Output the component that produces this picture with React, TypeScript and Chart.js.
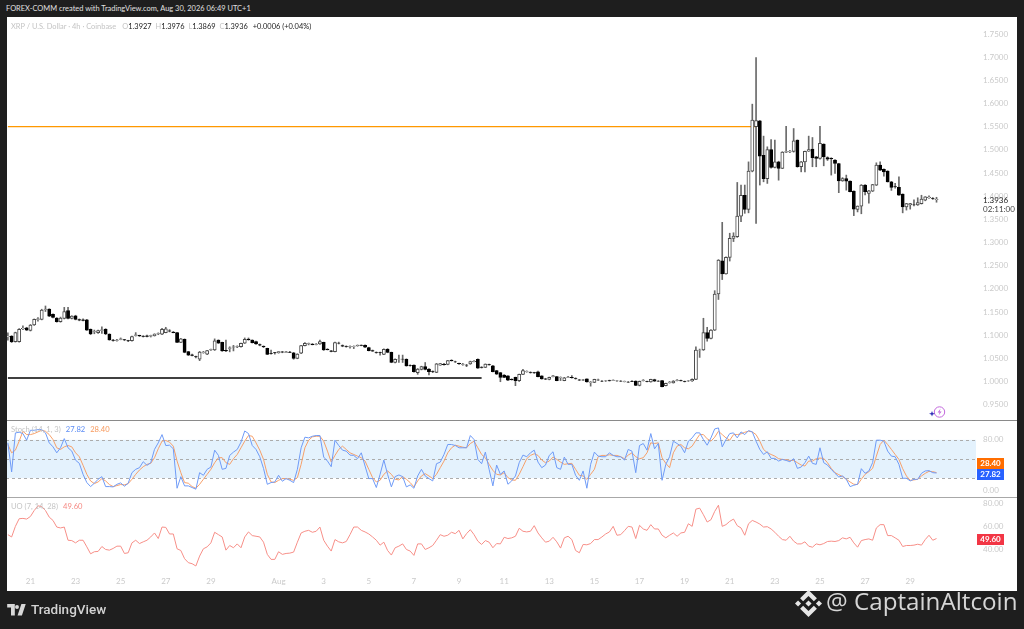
import React, { useEffect, useRef } from "react";
import { Chart, registerables } from "chart.js";

Chart.register(...registerables);

const opens = [
  1.0965,1.098,1.086,1.086,1.114,1.116,1.110,1.122,1.134,1.134,
  1.1555,1.1565,1.145,1.137,1.129,1.136,1.153,1.136,1.142,1.1335,
  1.133,1.133,1.1125,1.107,1.1055,1.1105,1.1125,1.1025,1.0895,1.0885,
  1.091,1.0905,1.0885,1.088,1.0995,1.0995,1.098,1.0985,1.098,1.099,
  1.1025,1.102,1.1055,1.1095,1.1065,1.1055,1.0845,1.091,1.0645,1.0575,
  1.054,1.048,1.0625,1.059,1.068,1.068,1.0895,1.0845,1.067,1.0715,
  1.074,1.0745,1.075,1.0825,1.0915,1.0895,1.086,1.0795,1.076,1.0715,
  1.061,1.0625,1.062,1.064,1.063,1.0635,1.062,1.050,1.061,1.0775,
  1.081,1.0805,1.080,1.081,1.0845,1.0695,1.066,1.0645,1.083,1.0775,
  1.0755,1.0745,1.075,1.0775,1.0785,1.078,1.073,1.0665,1.063,1.0625,
  1.0585,1.0695,1.063,1.041,1.048,1.0485,1.048,1.0345,1.0355,1.019,
  1.026,1.032,1.027,1.0215,1.0198,1.0355,1.037,1.037,1.0455,1.0425,
  1.039,1.037,1.0355,1.038,1.043,1.048,1.031,1.0305,1.0365,1.034,
  1.0235,1.019,1.014,1.0125,1.0045,1.009,1.002,1.0155,1.021,1.020,
  1.019,1.021,1.012,1.0055,1.0045,1.011,1.0105,1.008,1.002,1.009,
  1.009,1.007,1.0035,1.003,1.0055,0.998,0.998,1.003,1.001,1.001,
  1.002,1.0025,1.001,1.001,0.9995,0.999,1.0005,1.001,0.9915,1.0025,
  1.0,0.999,1.004,1.001,1.002,0.991,0.998,0.997,1.0025,1.002,
  1.0,1.001,1.001,1.0045,1.0675,1.068,1.1055,1.093,1.111,1.189,
  1.2605,1.232,1.268,1.309,1.3125,1.357,1.402,1.3715,1.454,1.55,
  1.5627,1.488,1.438,1.5008,1.462,1.474,1.46,1.495,1.4955,1.4965,
  1.521,1.4635,1.474,1.497,1.5015,1.485,1.4815,1.5123,1.4835,1.4815,
  1.478,1.4705,1.433,1.438,1.4325,1.411,1.3715,1.3785,1.424,1.406,
  1.411,1.424,1.467,1.458,1.454,1.431,1.4205,1.419,1.4045,1.377,
  1.381,1.3815,1.381,1.384,1.3915,1.397,1.3955,1.3927,
];
const closes = [
  1.0975,1.086,1.1055,1.1125,1.115,1.111,1.122,1.134,1.135,1.154,
  1.1565,1.141,1.1385,1.129,1.137,1.151,1.136,1.141,1.134,1.1325,
  1.132,1.111,1.1025,1.1075,1.110,1.1115,1.1025,1.0895,1.0885,1.0895,
  1.092,1.0895,1.0875,1.097,1.1005,1.0985,1.0975,1.0975,1.099,1.1025,
  1.1035,1.1125,1.1135,1.1085,1.1055,1.0845,1.092,1.063,1.057,1.0565,
  1.053,1.0635,1.0635,1.0665,1.069,1.088,1.0825,1.066,1.066,1.0725,
  1.075,1.0755,1.0825,1.091,1.0905,1.084,1.081,1.0785,1.075,1.0585,
  1.0605,1.0615,1.0645,1.0635,1.064,1.063,1.050,1.059,1.0775,1.0825,
  1.082,1.0795,1.081,1.086,1.068,1.0685,1.065,1.084,1.0825,1.0765,
  1.075,1.0755,1.0755,1.078,1.078,1.074,1.0665,1.0655,1.0625,1.062,
  1.0695,1.0625,1.041,1.048,1.0485,1.048,1.0335,1.034,1.021,1.027,
  1.032,1.026,1.021,1.021,1.038,1.0385,1.0365,1.045,1.045,1.042,
  1.0385,1.0375,1.035,1.043,1.0435,1.0285,1.0305,1.0375,1.036,1.021,
  1.016,1.009,1.009,1.003,1.004,1.002,1.0155,1.0235,1.0215,1.0195,
  1.0185,1.0105,1.0055,1.005,1.009,1.012,1.002,1.0085,1.008,1.0095,
  1.0085,1.0065,1.003,1.0035,0.999,0.9985,1.0045,1.0035,1.0005,1.0015,
  1.0015,1.003,1.0015,1.0005,1.0,0.9985,1.0,0.9915,1.0005,1.003,
  0.9995,1.0045,1.0005,1.0005,0.989,0.996,0.9985,1.001,1.003,1.0015,
  0.9995,1.0015,1.0045,1.068,1.068,1.1055,1.093,1.111,1.1887,1.262,
  1.232,1.268,1.309,1.314,1.357,1.402,1.3715,1.454,1.564,1.563,
  1.4864,1.438,1.5008,1.462,1.474,1.46,1.495,1.496,1.4965,1.5195,
  1.4635,1.474,1.497,1.5008,1.483,1.4815,1.514,1.485,1.48,1.481,
  1.4705,1.433,1.438,1.4325,1.4095,1.372,1.3785,1.424,1.4095,1.4115,
  1.425,1.467,1.456,1.4525,1.431,1.419,1.42,1.402,1.377,1.384,
  1.384,1.381,1.386,1.3935,1.3985,1.398,1.395,1.3936,
];
const highs = [
  1.105,1.099,1.1065,1.114,1.120,1.117,1.123,1.135,1.138,1.156,
  1.163,1.157,1.146,1.138,1.139,1.160,1.160,1.142,1.143,1.135,
  1.135,1.134,1.1135,1.111,1.111,1.118,1.114,1.103,1.091,1.091,
  1.094,1.091,1.089,1.098,1.1055,1.100,1.099,1.100,1.100,1.103,
  1.105,1.115,1.117,1.112,1.108,1.106,1.093,1.092,1.065,1.059,
  1.055,1.065,1.065,1.067,1.070,1.092,1.090,1.085,1.0895,1.075,
  1.078,1.077,1.083,1.094,1.094,1.090,1.087,1.081,1.077,1.072,
  1.068,1.063,1.065,1.065,1.065,1.065,1.063,1.060,1.078,1.084,
  1.083,1.082,1.082,1.0895,1.085,1.071,1.067,1.085,1.085,1.079,
  1.077,1.077,1.077,1.079,1.079,1.079,1.074,1.068,1.064,1.0635,
  1.0705,1.071,1.0635,1.049,1.057,1.057,1.049,1.036,1.036,1.028,
  1.033,1.041,1.028,1.023,1.039,1.039,1.039,1.0455,1.047,1.044,
  1.040,1.039,1.037,1.044,1.045,1.049,1.032,1.038,1.0375,1.035,
  1.024,1.0195,1.015,1.013,1.006,1.0095,1.016,1.0265,1.023,1.021,
  1.020,1.0225,1.0125,1.007,1.0095,1.0135,1.011,1.010,1.009,1.011,
  1.013,1.008,1.0045,1.0045,1.006,1.000,1.005,1.005,1.002,1.0025,
  1.003,1.0035,1.0025,1.002,1.001,1.000,1.002,1.0015,1.001,1.004,
  1.001,1.005,1.005,1.002,1.0025,0.9965,1.000,1.002,1.004,1.003,
  1.001,1.0025,1.006,1.075,1.070,1.1365,1.117,1.112,1.196,1.263,
  1.3435,1.269,1.320,1.321,1.4296,1.424,1.424,1.474,1.5986,1.699,
  1.5635,1.5296,1.5065,1.522,1.521,1.4755,1.496,1.551,1.499,1.546,
  1.5215,1.475,1.4975,1.5296,1.5266,1.486,1.551,1.513,1.485,1.483,
  1.479,1.471,1.44,1.4455,1.433,1.4115,1.379,1.425,1.425,1.4125,
  1.4255,1.472,1.474,1.459,1.455,1.432,1.4275,1.442,1.405,1.3845,
  1.3845,1.392,1.3965,1.402,1.399,1.4005,1.397,1.3976,
];
const lows = [
  1.089,1.084,1.085,1.085,1.112,1.110,1.109,1.121,1.130,1.133,
  1.151,1.140,1.137,1.128,1.128,1.135,1.135,1.135,1.133,1.131,
  1.131,1.110,1.101,1.103,1.104,1.104,1.101,1.089,1.087,1.087,
  1.090,1.088,1.086,1.087,1.098,1.097,1.096,1.096,1.096,1.098,
  1.101,1.101,1.105,1.107,1.105,1.084,1.084,1.062,1.056,1.055,
  1.051,1.045,1.061,1.058,1.067,1.067,1.082,1.065,1.0645,1.064,
  1.066,1.073,1.074,1.082,1.089,1.083,1.080,1.077,1.073,1.058,
  1.059,1.059,1.061,1.062,1.062,1.062,1.048,1.049,1.060,1.077,
  1.079,1.079,1.079,1.080,1.067,1.068,1.064,1.064,1.081,1.075,
  1.074,1.072,1.071,1.076,1.077,1.073,1.066,1.065,1.061,1.057,
  1.058,1.062,1.0405,1.040,1.041,1.041,1.033,1.033,1.020,1.0155,
  1.025,1.025,1.014,1.019,1.019,1.035,1.035,1.036,1.044,1.041,
  1.037,1.035,1.032,1.037,1.042,1.028,1.029,1.030,1.035,1.0205,
  1.015,0.9995,1.008,1.002,1.003,0.991,1.0,1.015,1.020,1.018,
  1.0175,1.010,1.005,1.004,1.0035,1.010,1.0015,1.002,1.0015,1.008,
  1.007,1.005,1.002,1.002,0.9985,0.990,0.9975,1.002,0.9995,1.0,
  1.001,1.002,1.0,1.0,0.999,0.998,0.9995,0.991,0.9905,1.001,
  0.999,0.9985,1.0,1.0,0.9885,0.9905,0.9965,0.9965,1.0015,1.001,
  0.999,1.0,1.0,1.004,1.052,1.067,1.087,1.092,1.110,1.177,
  1.220,1.2315,1.260,1.302,1.311,1.345,1.363,1.364,1.4525,1.341,
  1.424,1.431,1.4275,1.4605,1.461,1.4345,1.4595,1.494,1.494,1.495,
  1.4625,1.4525,1.4525,1.4965,1.4635,1.4635,1.48,1.4655,1.477,1.4455,
  1.449,1.4075,1.432,1.413,1.409,1.358,1.366,1.362,1.4025,1.385,
  1.41,1.423,1.455,1.443,1.4305,1.4125,1.417,1.4015,1.364,1.37,
  1.372,1.379,1.38,1.383,1.39,1.395,1.393,1.3869,
];

const stochK = [
  75.3,29.4,90.9,92,89.9,79.5,95.1,95.1,96.2,96.2,
  91,75.3,69,59.6,67.5,82,67.5,62.3,48,43,
  25.7,12.7,6.4,11.7,17.9,22,6.4,6.4,5.9,10,
  12.2,7,11.7,28.3,33.6,36.2,45.6,39.8,44,65,
  75.3,88.3,71,71.6,65.9,3.8,22,7.5,7.5,4.9,
  2.3,28.3,24.2,33.6,37.2,63.8,55.5,33.6,35.1,55.5,
  60.7,64.9,76.3,94,89.9,71.1,64.9,53.4,35,10,
  12.7,13.7,24.2,14.8,19,16.3,12.7,33.6,67.5,84.2,
  83.1,85.7,86.8,86.8,52.9,46.6,37.7,79.5,71.1,63.8,
  62.2,56,55.5,50.3,59.6,38.8,19,19,4.9,25.7,
  48.2,25.7,5.9,22.1,24.7,22.1,5.9,9,3.8,23.1,
  33.6,23.1,19,15.3,42.4,45,57,72.7,72.7,71.1,
  67.5,67.5,67.5,86.8,80.5,49.2,42.4,60.7,33.6,7.5,
  40.3,25.7,31,10.1,15.3,23.1,44,56,53.4,59.6,
  63.8,45,36.2,40.3,55.5,61.2,36.2,33.6,52.9,41.4,
  41.4,24.2,16.3,31,3.8,41.4,60.7,54.4,53.4,53.4,
  59.6,55.5,53.4,53.4,48.2,64.9,62.2,28.3,71.1,74.2,
  63.8,89.9,65.9,74.2,16.3,41.4,53.4,77.9,74.2,70.1,
  59.7,77.9,83.1,91,91,80.5,71.6,83.1,97.2,98.8,
  69,80.5,89.9,91,83.1,92.5,88.3,94.6,92.5,77.9,
  64.9,57,61.2,50.8,50.8,46.6,49.2,47.6,45.6,50.3,
  35.1,37.2,44,54.4,43,41.4,67.5,44,40.3,33.6,
  27.3,21.6,23.1,17.9,6.4,8.5,10.1,34.6,27.3,31,
  44,79.5,79.5,77.9,62.3,54.4,53.4,41.4,19.5,19.5,
  15.3,17.9,17.9,27.3,31,31.5,28.3,27.82,
];
const stochD = [
  72.7,59.6,63.8,78,93.5,88.3,88.3,89.9,92.5,95.1,
  93.5,88.3,80.5,67.5,64.9,69,71.1,69,59.6,53.4,
  39.9,25.7,15.3,11.1,13.7,18.9,15.3,9.6,6.4,8,
  9.6,9.1,11.1,17.9,25.7,32.5,37.7,41.4,43,51.9,
  66,78,79,76.4,70.1,46.6,28.3,12.7,11.7,6.4,
  3.8,10,17.9,25.7,33.6,44,51.9,51.9,44,41.4,
  50.3,57,67.5,78,86.8,85.7,75.3,63.8,49.2,25.7,
  13.7,12.7,16.3,18.9,18.9,17.9,16.3,20.5,41.4,67.5,
  79.5,84.7,85.7,85.7,78,62.3,45.1,55.5,64.9,70.1,
  64.9,59.6,57,54.4,51.8,46.6,33.6,20.5,13.7,16.3,
  25.7,31,25.7,17.9,16.9,22.1,17.9,12.7,5.9,15.3,
  23.1,26.8,23.1,19,25.7,36.2,46.6,59.6,67.5,71.6,
  70.1,68.5,67.5,74.2,77.9,67.5,57,51.8,41.4,32,
  25.7,24.7,28.3,20.5,16.9,16.3,25.7,37.7,50.3,55.5,
  58.1,55.5,48.2,44,46.6,52.9,49.2,45,41.4,42.4,
  43,33.6,24.2,23.1,17.9,25.7,33.6,53.4,55.5,55.5,
  56.5,55.5,55.5,53.4,50.3,56,59.6,53.4,50.3,51.8,
  59.6,75.3,74.2,75.3,51.8,43,36.2,59.6,70.1,72.7,
  67.5,65.9,70.1,79.5,88.3,88.3,81.6,77.9,84.2,93.6,
  88.3,83.1,79.5,88.3,88.3,89.4,92,93.6,92.5,88.3,
  77.9,64.9,59.7,57,54.4,50.3,49.2,48.7,47.6,47.6,
  44,40.3,38.8,46.6,46.6,50.3,51.3,50.8,44,35.1,
  28.3,25.2,22.1,17.9,13.7,10.1,9.6,17.9,25.7,29.9,
  35.1,54.4,72.7,79.5,72.7,64.9,57,49.2,34.6,23.1,
  16.3,16.9,17.9,23.1,27.3,30.4,29.9,28.4,
];
const uo = [
  53,51,60.3,67,67.3,66.7,69,74.2,78.3,77.7,
  74.2,68.4,65.5,59.7,58.9,59.7,48.1,47.8,45.8,48.1,
  48.1,42.3,36.2,38,38.3,42.6,40,39.4,40.9,42.9,
  42.9,36.5,37.1,45.8,48.1,45.2,46.7,48.1,51,54.5,
  49.6,59.7,59.4,53.6,53.6,40.6,39.1,31.9,28.4,27.5,
  25.5,34.2,40.6,42.3,45.8,55.1,53,51,39.4,43.5,
  41.5,44.9,41.5,51,55.4,52.2,51.6,51,46.4,35.7,
  31.3,31.3,38,35.7,36.5,36.8,37.7,46.4,54.5,56,
  56.8,55.1,56,59.7,48.1,42.9,38.6,48.7,46.7,45.8,
  47,53,59.7,59.7,56.8,55.4,53.6,51,48.1,43.8,
  46.4,39.1,35.1,41.5,42.9,44.9,40,38.6,34.8,44.9,
  44.9,40,41.5,43.5,48.1,53,51.6,52.5,55.1,53.9,
  56.8,49.3,53.9,57.4,53,47.3,44.4,47.8,46.4,41.5,
  45.2,44.9,50.7,49.6,50.2,51.6,58.6,56,55.4,56,
  60.9,54.5,50.2,46.4,47.3,50.7,46.7,41.2,50.2,51.6,
  48.7,39.1,37.1,44.4,44.1,45.2,48.7,48.7,51,53.6,
  55.4,60.3,52.5,53,56.5,60.3,59.7,49.6,61.2,58,
  56.8,61.8,58,58,52.5,50.2,52.5,54.5,51.6,54.5,
  55.1,62.6,60.3,75.4,76.3,70.5,64.1,66.1,73.4,78.9,
  60.3,61.8,64.7,66.7,60.9,58.9,52.5,62.6,65.5,64.1,
  62.3,59.7,60,58,55.1,51.6,48.7,48.1,51.6,47.3,
  44.9,44.9,46.7,42.9,42,44.9,44.1,45.2,47,47.3,
  47,47.8,50.2,49.3,50.7,45.8,42,47.8,48.7,49.3,
  48.1,58.9,61.8,61.8,52.2,52.2,50.2,48.1,42.6,43.5,
  43.5,43.8,44.6,43.8,48.7,52.5,48.1,49.6,
];

const tickLabels = ["21","23","25","27","29","Aug","3","5","7","9","11","13","15","17","19","21","23","25","27","29"];
const tickBars = [6,18,30,42,54,72,84,96,108,120,132,144,156,168,180,192,204,216,228,240];
const priceTicks = [0.95,1.0,1.05,1.1,1.15,1.2,1.25,1.3,1.35,1.4,1.45,1.5,1.55,1.6,1.65,1.7,1.75];
const stochTicks = [0, 80];
const uoTicks = [40, 60, 80];
const resistanceLevel = 1.55;
const resistanceEndBar = 199;
const supportLevel = 1.0075;
const supportEndBar = 126;
const stochBand = [20, 50, 80];

const BAR_SLOTS = 258;
const AXIS_WIDTH = 41;
const TICK_COLOR = "#cacaca";
const UI_FONT = "Lato, 'Open Sans', sans-serif";

const categories = Array.from({ length: BAR_SLOTS }, (_, i) => {
  const at = tickBars.indexOf(i);
  return at >= 0 ? tickLabels[at] : "";
});

const levelLine = (value: number, endBar: number, color: string, width: number) => ({
  type: "line" as const,
  data: categories.map((_, i) => (i <= endBar ? value : null)),
  borderColor: color,
  borderWidth: width,
  pointRadius: 0,
  order: 3,
});

const curve = (values: number[], color: string) => ({
  type: "line" as const,
  data: values,
  borderColor: color,
  borderWidth: 1,
  pointRadius: 0,
  tension: 0,
});

const fixedWidth = (scale: any) => {
  scale.width = AXIS_WIDTH;
  scale.paddingTop = 0;
  scale.paddingBottom = 0;
};

const yAxis = (min: number, max: number, ticks: number[], decimals: number) => ({
  position: "right" as const,
  min,
  max,
  afterFit: fixedWidth,
  afterBuildTicks: (scale: any) => {
    scale.ticks = ticks.map((value) => ({ value }));
  },
  grid: { display: false, drawTicks: false },
  border: { display: false },
  ticks: {
    color: TICK_COLOR,
    padding: 7,
    font: { family: UI_FONT, size: 8 },
    callback: (v: any) => Number(v).toFixed(decimals),
  },
});

const hiddenX = { display: false, offset: true, grid: { display: false, offset: true } };

const basePlugins = { legend: { display: false }, tooltip: { enabled: false }, title: { display: false } };

const bandPlugin = {
  id: "stochBand",
  beforeDatasetsDraw(chart: any) {
    const { ctx, chartArea, scales } = chart;
    const y = scales.y;
    const [low, mid, high] = stochBand;
    ctx.save();
    ctx.fillStyle = "#e4f2fd";
    ctx.fillRect(chartArea.left, y.getPixelForValue(high), chartArea.width, y.getPixelForValue(low) - y.getPixelForValue(high));
    ctx.strokeStyle = "#acacac";
    ctx.lineWidth = 1;
    ctx.setLineDash([3, 3]);
    for (const level of [low, mid, high]) {
      const p = Math.round(y.getPixelForValue(level)) + 0.5;
      ctx.beginPath();
      ctx.moveTo(chartArea.left, p);
      ctx.lineTo(chartArea.right, p);
      ctx.stroke();
    }
    ctx.restore();
  },
};

const css = (s: React.CSSProperties): React.CSSProperties => s;
const abs = (left: number, top: number, extra: React.CSSProperties = {}) =>
  css({ position: "absolute", left, top, whiteSpace: "nowrap", fontFamily: UI_FONT, lineHeight: 1, ...extra });

function Tag({ top, color, text }: { top: number; color: string; text: string }) {
  return (
    <div style={abs(977, top, { width: 27, height: 10.5, background: color, color: "#fff", fontSize: 8, lineHeight: "10.5px", textAlign: "center", fontWeight: 700 })}>
      {text}
    </div>
  );
}

export default function App() {
  const priceRef = useRef<HTMLCanvasElement>(null);
  const stochRef = useRef<HTMLCanvasElement>(null);
  const uoRef = useRef<HTMLCanvasElement>(null);

  useEffect(() => {
    const wick = closes.map((_, i) => [lows[i], highs[i]]);
    const body = closes.map((c, i) => [opens[i], c]);
    const fills = closes.map((c, i) => (c >= opens[i] ? "#ffffff" : "#000000"));
    const edges = closes.map((c, i) => (c >= opens[i] ? "#4a4a4a" : "#000000"));

    const price = new Chart(priceRef.current!, {
      type: "bar",
      data: {
        labels: categories,
        datasets: [
          levelLine(resistanceLevel, resistanceEndBar, "#ff9800", 1.2),
          levelLine(supportLevel, supportEndBar, "#000000", 1.5),
          { data: wick, backgroundColor: "#6a6a6a", barThickness: 1, grouped: false, order: 2 },
          { data: body, backgroundColor: fills, borderColor: edges, borderWidth: 1, borderSkipped: false, barThickness: 3.2, grouped: false, order: 1 },
        ] as any,
      },
      options: {
        responsive: false,
        animation: false,
        layout: { padding: 0 },
        plugins: basePlugins,
        scales: { x: hiddenX, y: yAxis(0.9169, 1.7867, priceTicks, 4) },
      } as any,
    });

    const stoch = new Chart(stochRef.current!, {
      type: "line",
      data: {
        labels: categories,
        datasets: [curve(stochK, "#6f9bf7"), curve(stochD, "#f7a06a")],
      },
      options: {
        responsive: false,
        animation: false,
        layout: { padding: 0 },
        plugins: basePlugins,
        scales: { x: hiddenX, y: yAxis(-10, 109.7, stochTicks, 2) },
      } as any,
      plugins: [bandPlugin],
    });

    const osc = new Chart(uoRef.current!, {
      type: "line",
      data: { labels: categories, datasets: [curve(uo, "#f78f88")] },
      options: {
        responsive: false,
        animation: false,
        layout: { padding: 0 },
        plugins: basePlugins,
        scales: {
          x: {
            offset: true,
            afterFit: (scale: any) => {
              scale.height = 21;
              scale.paddingLeft = 0;
              scale.paddingRight = 0;
            },
            grid: { display: false, drawTicks: false, offset: true },
            border: { display: false },
            ticks: {
              autoSkip: false,
              maxRotation: 0,
              color: TICK_COLOR,
              padding: 8,
              font: { family: UI_FONT, size: 8 },
              callback: (_: any, i: number) => categories[i],
            },
          },
          y: yAxis(22.85, 85.2, uoTicks, 2),
        },
      } as any,
    });

    return () => {
      price.destroy();
      stoch.destroy();
      osc.destroy();
    };
  }, []);

  return (
    <div style={{ position: "fixed", left: 0, top: 0, width: 1024, height: 629, background: "#1e1e1e", overflow: "hidden" }}>
      <div style={abs(6, 5, { color: "#e0e0e0", fontSize: 7.45 })}>
        FOREX-COMM created with TradingView.com, Aug 30, 2026 06:49 UTC+1
      </div>

      <div style={{ position: "absolute", left: 7, top: 17, width: 1010, height: 573.5, background: "#ffffff", overflow: "hidden" }}>
        <canvas ref={priceRef} width={1011} height={403} style={{ position: "absolute", left: -1, top: 0, width: 1011, height: 403 }} />
        <canvas ref={stochRef} width={1011} height={76} style={{ position: "absolute", left: -1, top: 404, width: 1011, height: 76 }} />
        <canvas ref={uoRef} width={1011} height={92} style={{ position: "absolute", left: -1, top: 481, width: 1011, height: 92 }} />
        <div style={{ position: "absolute", left: 0, top: 403, width: 1010, height: 1, background: "#8a8a8a" }} />
        <div style={{ position: "absolute", left: 0, top: 479.5, width: 1010, height: 1.5, background: "#a8a8a8" }} />
      </div>

      <div style={abs(11, 22.5, { fontSize: 7.45, color: "#c4c4c4" })}>
        XRP / U.S. Dollar · 4h · Coinbase
        <span style={{ marginLeft: 6 }}>O</span><span style={{ color: "#222" }}>1.3927 </span>
        <span style={{ marginLeft: 2 }}>H</span><span style={{ color: "#222" }}>1.3976 </span>
        <span style={{ marginLeft: 2 }}>L</span><span style={{ color: "#222" }}>1.3869 </span>
        <span style={{ marginLeft: 2 }}>C</span><span style={{ color: "#222" }}>1.3936 </span>
        <span style={{ color: "#222", marginLeft: 3 }}>+0.0006 (+0.04%)</span>
      </div>

      <div style={abs(11, 426, { fontSize: 7.6, color: "#c4c4c4" })}>
        Stoch (14, 1, 3)
        <span style={{ color: "#5b8cf5", marginLeft: 5 }}>27.82</span>
        <span style={{ color: "#f79a5e", marginLeft: 5 }}>28.40</span>
      </div>
      <div style={abs(11, 503, { fontSize: 7.6, color: "#c4c4c4" })}>
        UO (7, 14, 28)
        <span style={{ color: "#f58a84", marginLeft: 5 }}>49.60</span>
      </div>

      <div style={abs(983, 195.5, { fontSize: 8, color: "#222" })}>1.3936</div>
      <div style={abs(983, 204.5, { fontSize: 8, color: "#444" })}>02:11:00</div>
      <Tag top={458} color="#ff6d00" text="28.40" />
      <Tag top={469} color="#2962ff" text="27.82" />
      <Tag top={534} color="#f23645" text="49.60" />

      <svg style={{ position: "absolute", left: 929, top: 405 }} width={17} height={14} viewBox="0 0 17 14">
        <circle cx={10.5} cy={7} r={5.2} fill="none" stroke="#c268dc" strokeWidth={1} />
        <path d="M11.6 3.6 8.6 7.6h2l-1 3 3-4h-2z" fill="#c268dc" />
        <path d="M3 6 3.8 8 6 8.8 3.8 9.6 3 11.6 2.2 9.6 0 8.8 2.2 8z" fill="#2f2fb8" />
      </svg>

      <svg style={{ position: "absolute", left: 7, top: 604 }} width={20} height={12} viewBox="0 0 36 22">
        <path d="M14 0H0v6.5h7V21h7V0Zm13 21h-8l7-21h8l-7 21ZM18 9a3.6 3.6 0 1 0 0-7.2A3.6 3.6 0 0 0 18 9Z" fill="#d8d8d8" />
      </svg>
      <div style={abs(31, 603, { fontSize: 13.5, fontWeight: 500, color: "#d4d4d4", fontFamily: "Roboto, sans-serif" })}>TradingView</div>

      <svg style={{ position: "absolute", left: 795, top: 590 }} width={27} height={27} viewBox="0 0 126.61 126.61" fill="#e6e6e6">
        <path d="M38.17 53.2 63.3 28.1l25.1 25.1 14.3-14.3L63.3 0 23.9 38.9z" />
        <path d="M0 63.3l14.3-14.3 14.3 14.3-14.3 14.3z" />
        <path d="M38.17 73.4 63.3 98.5l25.1-25.1 14.3 14.3-39.4 38.9-39.4-38.9z" />
        <path d="M98 63.3l14.3-14.3 14.3 14.3-14.3 14.3z" />
        <path d="M77.8 63.3 63.3 48.8 48.8 63.3l14.5 14.5z" />
      </svg>
      <div style={abs(826, 589, { fontSize: 24.2, color: "#d6d6d6", fontFamily: "'Open Sans', sans-serif" })}>@ CaptainAltcoin</div>
    </div>
  );
}
